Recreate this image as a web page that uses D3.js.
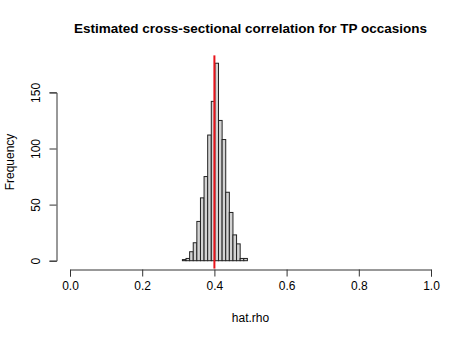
<!DOCTYPE html>
<html><head><meta charset="utf-8">
<script src="https://cdn.jsdelivr.net/npm/d3@7"></script>
<style>body{margin:0;background:#fff}svg{display:block}text{font-family:"Liberation Sans",Arial,sans-serif;fill:#000}</style>
</head><body>
<script>
const binLefts = [0.31,0.32,0.33,0.34,0.35,0.36,0.37,0.38,0.39,0.40,0.41,0.42,0.43,0.44,0.45,0.46,0.47,0.48];
const binWidth = 0.01;
const counts =   [1,2,8,16,35,56,75,112,142,176,125,108,61,43,23,15,2,2];
const xTicks = [0,0.2,0.4,0.6,0.8,1.0];
const yTicks = [0,50,100,150];
const refValue = 0.4;
const title = "Estimated cross-sectional correlation for TP occasions";
const xLabel = "hat.rho";
const yLabel = "Frequency";

const W = 474, H = 338;
const svg = d3.select("body").append("svg").attr("width", W).attr("height", H);

const x = d3.scaleLinear().domain([0, 1]).range([70, 431]);
const y = d3.scaleLinear().domain([0, 150]).range([260.7, 92.4]);
const plotTop = y(183), plotBottom = y(-7.04);
const plotLeft = x(-0.04), plotRight = x(1.04);

// bars
svg.append("g").selectAll("rect").data(binLefts).join("rect")
  .attr("x", d => x(d) + 0.5)
  .attr("y", (d, i) => y(counts[i]))
  .attr("width", d => x(d + binWidth) - x(d))
  .attr("height", (d, i) => y(0) - y(counts[i]))
  .attr("fill", "#d3d3d3")
  .attr("stroke", "#222")
  .attr("stroke-width", 1);

// x axis
const gx = svg.append("g").attr("transform", `translate(0,${Math.round(plotBottom) + 0.5})`)
  .call(d3.axisBottom(x).tickValues(xTicks).tickFormat(d3.format(".1f")).tickSizeOuter(0).tickSize(7).tickPadding(5));
gx.selectAll("text").style("font-size", "12px").attr("fill", "#000");
gx.selectAll("path,line").attr("stroke", "#333");

// y axis
const gy = svg.append("g").attr("transform", `translate(${Math.round(plotLeft) + 0.5},0)`)
  .call(d3.axisLeft(y).tickValues(yTicks).tickFormat(d3.format("d")).tickSizeOuter(0).tickSize(7));
gy.selectAll("path,line").attr("stroke", "#333");
gy.selectAll("text")
  .attr("transform", "rotate(-90)")
  .attr("x", 0).attr("dx", null).attr("dy", null)
  .attr("y", 0)
  .remove();
gy.selectAll(".tick").append("text")
  .attr("transform", "translate(-21,0) rotate(-90)")
  .attr("text-anchor", "middle")
  .attr("dy", "0.35em")
  .style("font-size", "12px")
  .text(d => d);

// reference line
svg.append("line")
  .attr("x1", x(refValue)).attr("x2", x(refValue))
  .attr("y1", plotTop).attr("y2", plotBottom)
  .attr("stroke", "#e8141b").attr("stroke-width", 2);

// titles
svg.append("text").attr("x", (plotLeft + plotRight) / 2).attr("y", 33)
  .attr("text-anchor", "middle").style("font-size", "13.5px").style("font-weight", "bold").text(title);
svg.append("text").attr("x", (plotLeft + plotRight) / 2).attr("y", 322)
  .attr("text-anchor", "middle").style("font-size", "12px").text(xLabel);
svg.append("text").attr("transform", `translate(14,${(plotTop + plotBottom) / 2}) rotate(-90)`)
  .attr("text-anchor", "middle").style("font-size", "12px").text(yLabel);
</script>
</body></html>
